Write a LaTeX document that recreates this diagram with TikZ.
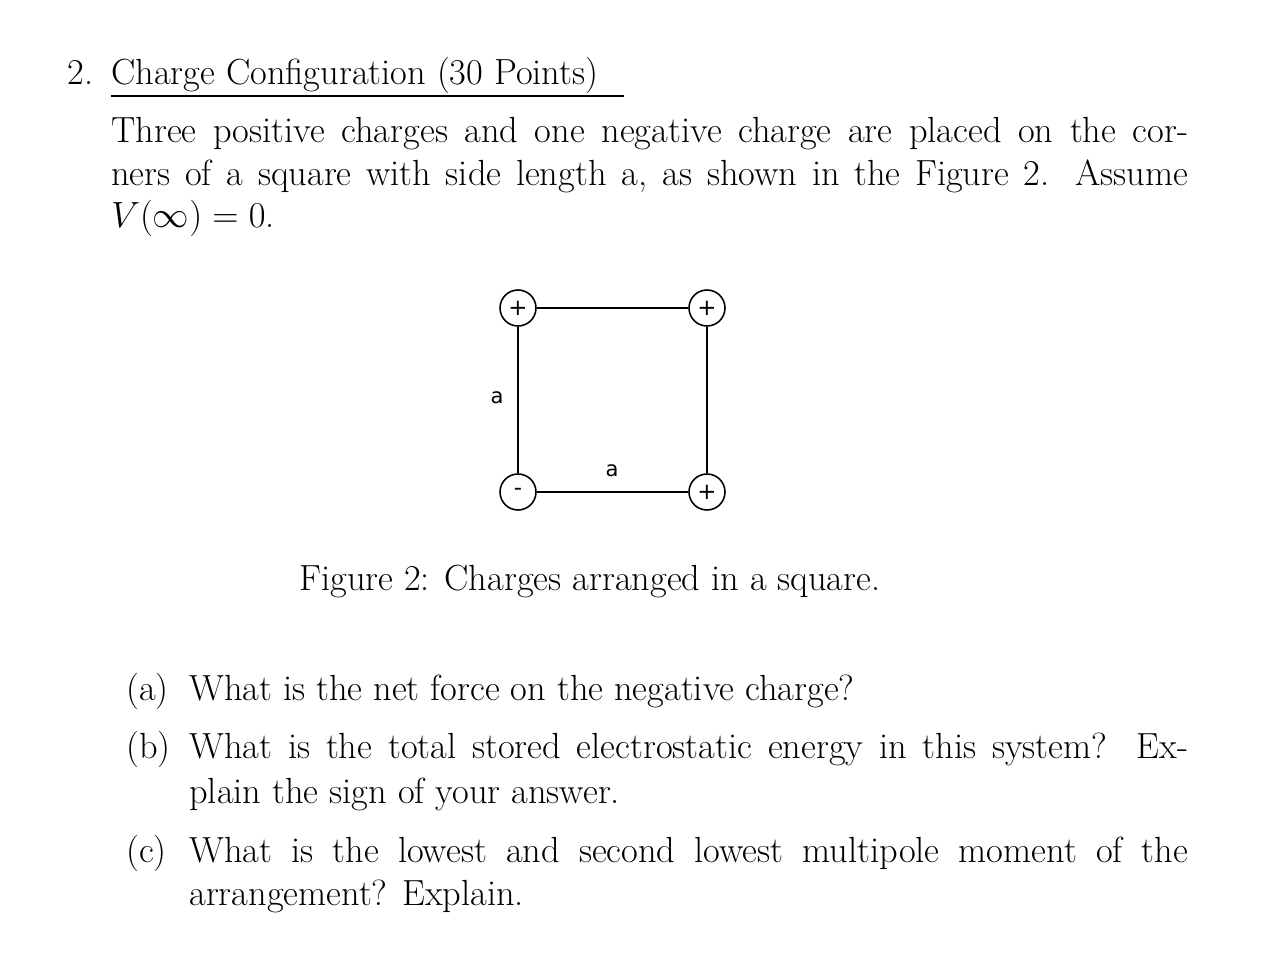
\documentclass[tikz,border=0pt]{standalone}
\usepackage{fontspec}
\newfontfamily\dvsans{DejaVu Sans}
\begin{document}
\begin{tikzpicture}[x=0.02cm,y=-0.02cm,
  txt/.style={anchor=base west,inner sep=0pt,font=\fontsize{20.7}{24}\selectfont},
  chg/.style={circle,draw,line width=0.9pt,fill=white,minimum size=0.72cm,inner sep=0pt,font=\dvsans\fontsize{13}{13}\selectfont},
  side/.style={line width=1.2pt},
  lab/.style={inner sep=0pt,font=\dvsans\fontsize{12}{12}\selectfont}]
\useasboundingbox (0,0) rectangle (1264,956);
\node[txt] (num) at (67,85) {2.};
\node[txt] (title) at (111,85) {Charge Configuration (30 Points)};
\draw[line width=0.6pt] (111,96) -- (624,96);
\node[txt] (l1) at (111,143) {\makebox[21.54cm][s]{Three positive charges and one negative charge are placed on the cor-}};
\node[txt] (l2) at (111,186) {\makebox[21.54cm][s]{ners of a square with side length a, as shown in the Figure 2. Assume}};
\node[txt] (l3) at (111,228) {$V(\infty)=0$.};
\node[chg] (tl) at (518,308) {+};
\node[chg] (tr) at (707,308) {+};
\node[chg] (bl) at (518,492) {-};
\node[chg] (br) at (707,492) {+};
\draw[side] (tl) -- (tr);
\draw[side] (tr) -- (br);
\draw[side] (bl) -- (br);
\draw[side] (tl) -- (bl);
\node[lab] (la) at (497,398) {a};
\node[lab] (lb) at (612,471) {a};
\node[txt] (cap) at (299,590) {Figure 2: Charges arranged in a square.};
\node[txt] (pa) at (126,700) {(a)};
\node[txt] (ta) at (189,700) {What is the net force on the negative charge?};
\node[txt] (pb) at (126,758) {(b)};
\node[txt] (tb1) at (189,758) {\makebox[19.98cm][s]{What is the total stored electrostatic energy in this system? Ex-}};
\node[txt] (tb2) at (189,803) {plain the sign of your answer.};
\node[txt] (pc) at (126,862) {(c)};
\node[txt] (tc1) at (189,862) {\makebox[19.98cm][s]{What is the lowest and second lowest multipole moment of the}};
\node[txt] (tc2) at (189,905) {arrangement? Explain.};
\end{tikzpicture}
\end{document}
